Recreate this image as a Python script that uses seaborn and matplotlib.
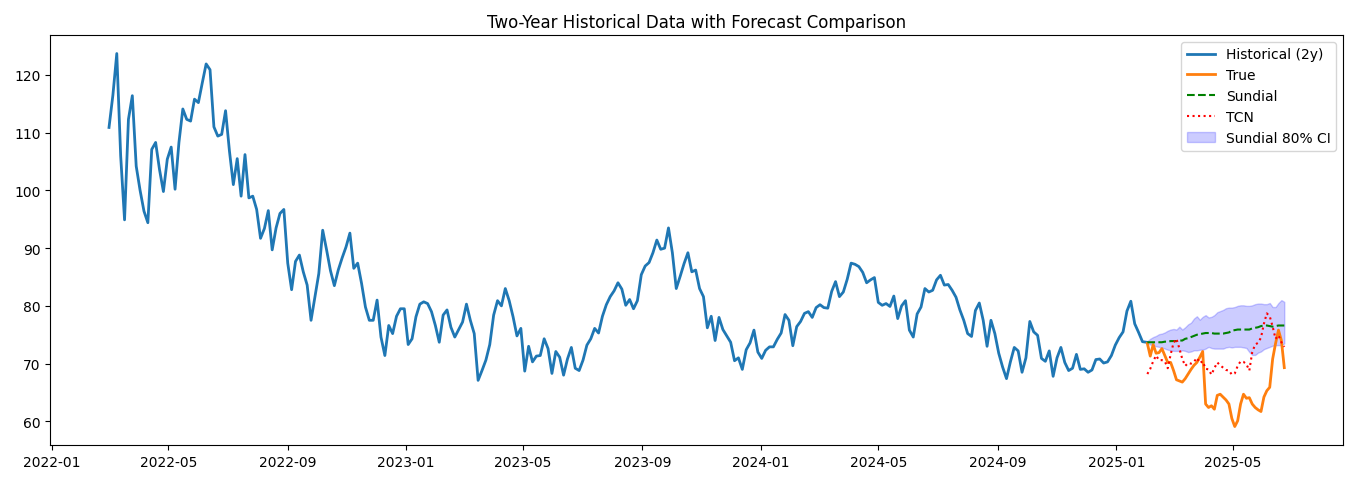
import numpy as np
import pandas as pd
import matplotlib
matplotlib.use("Agg")
import matplotlib.pyplot as plt
import seaborn as sns

# Historical series, sampled every 4 days from the start date
HIST_START = "2022-03-01"
HIST_STEP = "4D"
hist_values = [
    110.9, 116.5, 123.7, 106.0, 94.9, 112.3, 116.4, 104.2, 100.0, 96.4,
    94.4, 107.1, 108.3, 103.6, 99.8, 105.4, 107.5, 100.2, 108.3, 114.1,
    112.3, 112.0, 115.8, 115.2, 118.6, 121.9, 120.9, 111.0, 109.4, 109.7,
    113.8, 106.8, 101.0, 105.5, 99.0, 106.2, 98.7, 99.0, 96.7, 91.7,
    93.4, 96.5, 89.7, 93.5, 96.0, 96.7, 87.4, 82.8, 87.7, 88.8,
    85.9, 83.6, 77.5, 81.5, 85.6, 93.1, 89.7, 86.1, 83.5, 86.2,
    88.3, 90.2, 92.6, 86.5, 87.4, 83.9, 79.8, 77.5, 77.5, 81.0,
    74.6, 71.4, 76.6, 75.2, 78.2, 79.5, 79.5, 73.3, 74.3, 78.1,
    80.3, 80.7, 80.4, 79.0, 76.6, 73.7, 78.4, 79.3, 76.3, 74.6,
    75.9, 77.2, 80.3, 77.5, 75.2, 67.1, 68.8, 70.6, 73.3, 78.4,
    80.9, 80.0, 83.0, 80.9, 78.1, 74.8, 76.1, 68.7, 73.0, 70.3,
    71.3, 71.4, 74.3, 72.6, 68.3, 72.1, 71.1, 68.0, 70.8, 72.8,
    69.2, 68.8, 70.6, 73.2, 74.3, 76.1, 75.3, 78.2, 80.2, 81.6,
    82.6, 84.0, 82.9, 80.1, 81.1, 79.5, 80.9, 85.4, 86.9, 87.5,
    89.2, 91.4, 89.8, 90.0, 93.5, 89.2, 83.0, 85.1, 87.3, 89.2,
    85.9, 86.2, 83.0, 81.6, 76.2, 78.2, 74.0, 78.0, 75.9, 74.8,
    73.7, 70.5, 71.0, 69.0, 72.4, 73.6, 75.8, 72.0, 70.9, 72.3,
    72.9, 72.9, 74.2, 75.3, 78.5, 77.5, 73.1, 76.4, 77.3, 78.7,
    79.0, 78.0, 79.7, 80.2, 79.7, 79.6, 82.5, 84.2, 81.6, 82.4,
    84.6, 87.4, 87.2, 86.8, 85.8, 84.0, 84.5, 84.9, 80.6, 80.1,
    80.4, 79.9, 81.7, 77.8, 80.0, 80.9, 75.8, 74.6, 78.6, 79.8,
    83.0, 82.4, 82.7, 84.5, 85.3, 83.6, 83.7, 82.7, 81.5, 79.3,
    77.5, 75.2, 74.7, 79.2, 80.5, 77.5, 73.0, 77.5, 75.2, 71.8,
    69.4, 67.4, 70.3, 72.8, 72.2, 68.5, 71.0, 77.3, 75.5, 74.9,
    70.9, 70.4, 72.2, 67.8, 71.0, 72.8, 70.2, 68.8, 69.2, 71.6,
    69.0, 69.1, 68.5, 68.9, 70.7, 70.8, 70.1, 70.3, 71.4, 73.2,
    74.5, 75.5, 79.1, 80.8, 76.9, 75.4, 73.8, 73.7,
]

# Forecast window, sampled every 3 days
FC_START = "2025-02-02"
FC_STEP = "3D"
true_values = [
    73.5, 71.3, 73.3, 71.8, 71.9, 72.6, 71.4, 70.2, 70.2, 68.8,
    67.2, 67.0, 66.8, 67.4, 68.2, 69.0, 69.7, 70.2, 71.1, 72.1,
    63.0, 62.4, 62.7, 62.1, 64.5, 64.7, 64.2, 63.7, 63.0, 60.5,
    59.1, 60.1, 63.0, 64.7, 64.0, 64.1, 63.0, 62.4, 62.0, 61.7,
    64.2, 65.3, 65.9, 70.8, 73.5, 75.8, 74.0, 69.3,
]
sundial_values = [
    73.7, 73.7, 73.7, 73.7, 73.7, 73.7, 73.8, 73.8, 73.9, 73.9,
    73.9, 74.0, 74.0, 74.3, 74.4, 74.6, 74.8, 75.0, 75.1, 75.2,
    75.3, 75.3, 75.3, 75.2, 75.2, 75.2, 75.2, 75.3, 75.4, 75.7,
    75.8, 75.9, 75.9, 75.9, 75.9, 75.9, 76.1, 76.2, 76.3, 76.5,
    76.6, 76.6, 76.5, 76.4, 76.5, 76.6, 76.6, 76.6,
]
sundial_lo = [
    73.6, 73.3, 73.2, 73.0, 72.9, 72.8, 72.6, 72.4, 72.3, 72.2,
    72.2, 72.2, 72.3, 72.2, 72.0, 72.1, 72.3, 72.3, 72.4, 72.4,
    72.6, 72.9, 72.7, 72.6, 72.6, 72.6, 72.6, 72.8, 72.9, 72.8,
    72.9, 72.9, 72.9, 72.8, 72.7, 72.0, 71.5, 71.5, 71.9, 72.1,
    72.5, 72.7, 72.9, 73.1, 73.2, 73.2, 73.2, 73.5,
]
sundial_hi = [
    73.9, 74.3, 74.6, 74.8, 75.1, 75.2, 75.4, 75.7, 75.9, 76.0,
    75.9, 76.4, 75.9, 76.3, 76.8, 77.1, 77.8, 78.2, 77.6, 78.1,
    78.4, 78.0, 78.1, 78.4, 78.9, 79.1, 79.3, 79.6, 79.7, 79.7,
    79.8, 80.0, 80.1, 80.1, 80.0, 80.0, 80.1, 80.3, 80.4, 80.4,
    80.3, 80.3, 80.5, 79.8, 79.8, 80.5, 81.0, 80.7,
]
tcn_values = [
    68.2, 69.1, 70.4, 71.4, 70.6, 70.6, 70.4, 69.2, 71.6, 73.6,
    74.3, 72.6, 70.8, 69.6, 70.1, 70.0, 70.3, 71.0, 70.1, 70.4,
    69.1, 69.0, 68.1, 69.2, 70.2, 69.7, 69.3, 68.9, 68.8, 68.1,
    68.3, 69.6, 70.4, 70.3, 69.9, 68.8, 72.0, 73.3, 73.6, 74.5,
    76.9, 78.7, 78.2, 76.4, 74.3, 74.9, 73.7, 72.9,
]

hist_dates = pd.date_range(HIST_START, periods=len(hist_values), freq=HIST_STEP)
fc_dates = pd.date_range(FC_START, periods=len(true_values), freq=FC_STEP)

fig, ax = plt.subplots(figsize=(13.58, 4.85), dpi=100)

sns.lineplot(x=hist_dates, y=hist_values, ax=ax, color="tab:blue",
             linewidth=2, label="Historical (2y)")
sns.lineplot(x=fc_dates, y=true_values, ax=ax, color="tab:orange",
             linewidth=2, label="True")
sns.lineplot(x=fc_dates, y=sundial_values, ax=ax, color="green",
             linestyle="--", linewidth=1.5, label="Sundial")
sns.lineplot(x=fc_dates, y=tcn_values, ax=ax, color="red",
             linestyle=":", linewidth=1.5, label="TCN")
ax.fill_between(fc_dates, sundial_lo, sundial_hi, color="blue", alpha=0.2,
                label="Sundial 80% CI")

ax.set_title("Two-Year Historical Data with Forecast Comparison")
ax.set_xlabel("")
ax.set_ylabel("")
ax.legend(loc="upper right")

plt.subplots_adjust(left=0.037, right=0.989, top=0.926, bottom=0.080)
plt.savefig("out.png", dpi=100)
